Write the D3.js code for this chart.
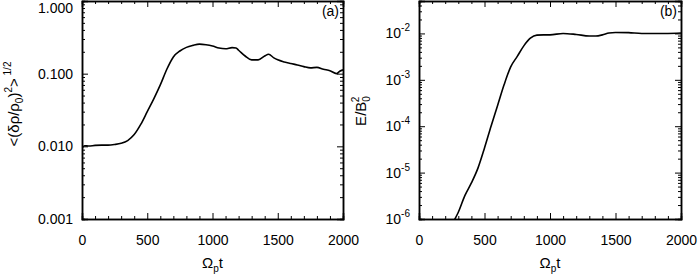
<!DOCTYPE html>
<html>
<head>
<meta charset="utf-8">
<script src="https://cdn.jsdelivr.net/npm/d3@7"></script>
<style>
  body { margin: 0; background: #fff; }
  svg { font-family: "Liberation Sans", Arial, sans-serif; }
</style>
</head>
<body>
<div id="chart"></div>
<script>
// panel (a): density fluctuation
const tA = [0, 20, 50, 100, 150, 200, 250, 300, 350, 400, 450, 500, 550, 600, 650, 700, 750, 800, 850, 900, 950, 1000, 1050, 1100, 1150, 1180, 1200, 1250, 1300, 1350, 1400, 1430, 1470, 1500, 1550, 1600, 1650, 1700, 1750, 1800, 1850, 1900, 1950, 1975, 2000]
const valA = [0.0095, 0.0102, 0.0101, 0.0103, 0.0104, 0.0104, 0.0106, 0.0110, 0.0120, 0.0145, 0.020, 0.030, 0.045, 0.070, 0.115, 0.17, 0.205, 0.23, 0.245, 0.255, 0.25, 0.24, 0.225, 0.22, 0.228, 0.225, 0.21, 0.175, 0.155, 0.155, 0.175, 0.185, 0.165, 0.155, 0.145, 0.138, 0.132, 0.125, 0.12, 0.122, 0.115, 0.11, 0.100, 0.108, 0.113]
const ticksA = [0.001, 0.01, 0.1, 1]
const tickLabelsA = ['0.001', '0.010', '0.100', '1.000']

// panel (b): wave energy
const tB = [270, 300, 350, 400, 450, 500, 550, 600, 650, 700, 750, 800, 850, 900, 950, 1000, 1100, 1200, 1300, 1350, 1400, 1450, 1500, 1600, 1700, 1800, 1900, 2000]
const valB = [0.95e-6, 1.4e-6, 3.2e-6, 6.0e-6, 1.25e-5, 3.4e-5, 1.0e-4, 2.8e-4, 7.9e-4, 1.9e-3, 3.2e-3, 5.4e-3, 7.9e-3, 0.0092, 0.0093, 0.0093, 0.0100, 0.0095, 0.0088, 0.0088, 0.0093, 0.0102, 0.0105, 0.0104, 0.0100, 0.0100, 0.0100, 0.0102]
const ticksB = [1e-6, 1e-5, 1e-4, 1e-3, 1e-2]
const tickExpB = ['-6', '-5', '-4', '-3', '-2']

const xTicks = [0, 500, 1000, 1500, 2000]

const svg = d3.select("#chart").append("svg")
  .attr("width", 700)
  .attr("height", 280)

// log minor ticks 2..9 in each decade inside the domain
function logMinor(lo, hi) {
  const out = []
  for (let e = Math.floor(Math.log10(lo)); e <= Math.ceil(Math.log10(hi)); e++) {
    for (let k = 2; k <= 9; k++) {
      const v = k * Math.pow(10, e)
      if (v > lo && v < hi) out.push(v)
    }
  }
  return out
}

function panel(id, x0, x1, yDomain, tVals, yVals, yTicks, label) {
  const top = 1, bottom = 219
  const x = d3.scaleLinear().domain([0, 2000]).range([x0, x1])
  const y = d3.scaleLog().domain(yDomain).range([bottom, top])
  const g = svg.append("g")

  const xMinor = d3.range(0, 2001, 100).filter(d => d % 500 !== 0)
  const yMinor = logMinor(yDomain[0], yDomain[1])

  // bottom + top axes
  g.append("g").attr("transform", `translate(0,${bottom})`)
    .call(d3.axisBottom(x).tickValues(xTicks).tickSize(-6).tickFormat(d3.format("d")).tickPadding(16))
  g.append("g").attr("transform", `translate(0,${bottom})`)
    .call(d3.axisBottom(x).tickValues(xMinor).tickSize(-3).tickFormat(""))
  g.append("g").attr("transform", `translate(0,${top})`)
    .call(d3.axisTop(x).tickValues(xTicks).tickSize(-6).tickFormat(""))
  g.append("g").attr("transform", `translate(0,${top})`)
    .call(d3.axisTop(x).tickValues(xMinor).tickSize(-3).tickFormat(""))

  // left + right axes
  const yAxis = g.append("g").attr("class", "yaxis").attr("transform", `translate(${x0},0)`)
    .call(d3.axisLeft(y).tickValues(yTicks).tickSize(-6).tickPadding(9))
  g.append("g").attr("transform", `translate(${x0},0)`)
    .call(d3.axisLeft(y).tickValues(yMinor).tickSize(-3).tickFormat(""))
  g.append("g").attr("transform", `translate(${x1},0)`)
    .call(d3.axisRight(y).tickValues(yTicks).tickSize(-6).tickFormat(""))
  g.append("g").attr("transform", `translate(${x1},0)`)
    .call(d3.axisRight(y).tickValues(yMinor).tickSize(-3).tickFormat(""))

  g.selectAll(".domain").attr("stroke", "#000").attr("stroke-width", 1.5)
  g.selectAll(".tick line").attr("stroke", "#000").attr("stroke-width", 1)
  g.selectAll(".tick text").attr("font-size", 14).attr("font-family", "Liberation Sans, Arial, sans-serif").attr("fill", "#000")

  // clip the curve to the plot box
  svg.append("clipPath").attr("id", "clip" + id)
    .append("rect").attr("x", x0).attr("y", top).attr("width", x1 - x0).attr("height", bottom - top)

  const line = d3.line()
    .x((d, i) => x(tVals[i]))
    .y(d => y(d))
    .curve(d3.curveMonotoneX)

  g.append("path")
    .datum(yVals)
    .attr("clip-path", `url(#clip${id})`)
    .attr("fill", "none")
    .attr("stroke", "#000")
    .attr("stroke-width", 1.6)
    .attr("d", line)

  // panel label
  g.append("text")
    .attr("x", x1 - 4).attr("y", 16)
    .attr("text-anchor", "end")
    .attr("font-size", 14)
    .text(label)

  // x title
  const xt = g.append("text")
    .attr("x", (x0 + x1) / 2).attr("y", 268)
    .attr("text-anchor", "middle")
    .attr("font-size", 15)
  xt.append("tspan").text("Ω")
  xt.append("tspan").attr("font-size", 10).attr("dy", 4).text("p")
  xt.append("tspan").attr("dy", -4).text("t")

  return { g, yAxis }
}

const a = panel("a", 82, 343, [0.001, 1], tA, valA, ticksA, "(a)")
a.yAxis.selectAll(".tick text")
  .text((d, i) => tickLabelsA[i])
  .attr("y", d => d === 1 ? 7 : 0)

const b = panel("b", 419, 681, [1e-6, 0.05], tB, valB, ticksB, "(b)")
b.yAxis.selectAll(".tick text").each(function(d, i) {
  const t = d3.select(this).text("")
  t.append("tspan").text("10")
  t.append("tspan").attr("font-size", 10).attr("dy", -7).text(tickExpB[i])
})

// y title, panel (a)
const ya = svg.append("text")
  .attr("transform", "translate(19,104) rotate(-90)")
  .attr("text-anchor", "middle")
  .attr("font-size", 15)
ya.append("tspan").text("<(δρ/ρ")
ya.append("tspan").attr("font-size", 10).attr("dy", 4).text("0")
ya.append("tspan").attr("dy", -4).text(")")
ya.append("tspan").attr("font-size", 10).attr("dy", -7).text("2")
ya.append("tspan").attr("dy", 7).text(">")
ya.append("tspan").attr("font-size", 10).attr("dy", -8).text(" 1/2")

// y title, panel (b)
const yb = svg.append("text")
  .attr("transform", "translate(366,111) rotate(-90)")
  .attr("text-anchor", "middle")
  .attr("font-size", 15)
yb.append("tspan").text("E/B")
yb.append("tspan").attr("font-size", 10).attr("dy", 4).text("0")
yb.append("tspan").attr("font-size", 10).attr("dx", -6).attr("dy", -11).text("2")
</script>
</body>
</html>
